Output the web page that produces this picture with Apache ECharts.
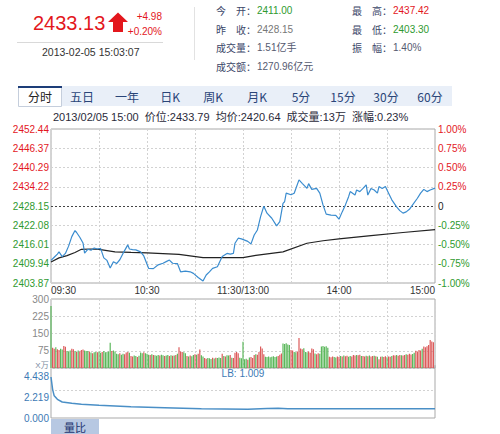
<!DOCTYPE html>
<html><head><meta charset="utf-8">
<script src="https://cdn.jsdelivr.net/npm/echarts@6/dist/echarts.min.js"></script>
<style>html,body{margin:0;padding:0;background:#fff;}#c{width:500px;height:434px;}</style>
</head><body><div id="c"></div>
<script>
// ---------------- data ----------------
const prevClose = 2428.15;
const priceTicks = [2403.87, 2409.94, 2416.01, 2422.08, 2428.15, 2434.22, 2440.29, 2446.37, 2452.44];
const tickMinutes = [0, 60, 120, 180, 240];
const tickLabels = ['09:30', '10:30', '11:30/13:00', '14:00', '15:00'];
const tabNames = ['分时', '五日', '一年', '日K', '周K', '月K', '5分', '15分', '30分', '60分'];

// price line: [minute index, price]
const pricePts = [
  [0,2411.0],[2,2412.0],[4,2413.0],[5,2413.7],[7,2412.2],[9,2413.2],[11,2415.5],[12,2417.0],[13,2418.5],
  [15,2420.4],[16,2419.8],[18,2418.3],[20,2416.5],[21,2413.3],[23,2414.5],[25,2414.2],[27,2414.9],[29,2414.6],
  [31,2414.8],[33,2411.8],[35,2411.0],[37,2408.6],[39,2410.6],[41,2410.0],[43,2411.2],[45,2413.2],[48,2415.9],
  [49,2414.6],[51,2414.4],[53,2414.3],[56,2413.7],[58,2412.4],[61,2408.5],[64,2408.4],[67,2409.6],[70,2410.1],
  [72,2410.6],[74,2411.1],[76,2410.1],[79,2410.0],[81,2407.4],[84,2407.6],[87,2407.4],[89,2406.9],[92,2405.6],
  [95,2404.5],[97,2406.4],[99,2407.4],[101,2408.5],[104,2409.0],[107,2412.2],[110,2413.2],[112,2413.0],[114,2413.2],
  [115,2416.4],[117,2418.0],[119,2417.8],[121,2417.4],[123,2417.0],[125,2416.2],[127,2419.0],[129,2420.6],[131,2424.8],
  [133,2428.1],[135,2425.9],[138,2424.3],[141,2421.9],[143,2423.2],[145,2429.0],[146,2429.5],[147,2432.2],[150,2431.7],
  [152,2432.2],[155,2436.4],[157,2435.3],[160,2433.7],[161,2435.2],[163,2433.4],[166,2433.7],[168,2432.2],[170,2428.5],
  [172,2425.6],[175,2425.3],[178,2425.2],[180,2424.0],[182,2426.3],[184,2428.5],[186,2431.1],[187,2432.7],[190,2431.6],
  [191,2433.2],[193,2432.7],[195,2433.7],[197,2434.8],[198,2431.6],[200,2433.7],[202,2433.2],[204,2432.2],[205,2434.3],
  [207,2433.7],[209,2434.3],[211,2432.2],[213,2430.1],[216,2427.9],[218,2426.7],[220,2425.9],[222,2426.3],[224,2427.1],
  [226,2428.5],[229,2430.6],[231,2432.2],[233,2433.4],[235,2432.7],[237,2433.2],[240,2433.79]
];
// average price line
const avgPts = [
  [0,2410.5],[5,2411.8],[10,2412.5],[15,2413.5],[19,2414.5],[25,2414.6],[30,2414.5],[40,2413.7],[50,2413.5],
  [60,2413.4],[80,2412.9],[95,2411.9],[120,2411.9],[128,2412.6],[145,2413.7],[160,2416.4],[170,2417.2],
  [180,2417.8],[200,2418.8],[220,2419.8],[240,2420.7]
];
// volume per minute (万)
const volumes = [
  270,88,84,90,82,78,84,80,96,92,
  74,72,76,84,82,74,70,76,72,78,
  80,76,74,74,72,67,64,68,70,68,
  72,66,70,74,68,70,72,110,74,76,
  72,62,60,64,58,62,60,67,70,66,
  52,50,54,52,48,53,67,64,68,64,
  62,58,56,60,57,55,53,56,54,58,
  55,52,54,56,52,55,53,54,57,62,
  90,72,70,68,64,52,50,54,51,56,
  60,58,62,80,55,50,43,40,44,42,
  39,45,41,45,43,46,44,62,52,50,
  55,54,56,45,44,66,70,64,45,42,
  114,38,40,36,46,48,44,56,60,58,
  70,93,85,60,49,48,50,47,49,51,
  48,50,52,58,63,107,104,108,102,100,
  78,76,70,68,72,130,85,82,86,70,
  68,72,66,85,82,63,60,64,62,93,
  96,92,95,88,49,47,50,48,46,50,
  48,52,50,54,51,53,49,52,50,56,
  54,57,55,58,52,52,50,53,51,54,
  50,52,53,51,49,38,49,50,48,51,
  47,50,49,52,55,54,56,53,57,55,
  54,56,60,58,62,59,61,66,75,72,
  78,76,84,93,90,95,100,122,115,112,
  12
];
// r = up minute, g = down minute, n = flat
const volDir = (
  'grrgrrggrr' + 'gggrrgrgrr' + 'rgggrgrggr' + 'ggrgggggrg' + 'gggrggrrrg' +
  'rrggrgggrg' + 'ggrgrgggrg' + 'grggrgrgrg' + 'rrrggrgrgg' + 'rgrrggrrgg' +
  'grgrgggrgr' + 'ggrgrrrrgg' + 'gggrgrrrgr' + 'rrrrgggggg' + 'ggrrrggggg' +
  'rrggrrrrgg' + 'grrrrgrrgg' + 'ggggrrrggr' + 'rgrgrrggrr' + 'rgrrgrrgrg' +
  'rrgrgrrgrr' + 'grrgrrgrrg' + 'rrgrrrggrr' + 'rrgrrrrrrr' + 'n'
);
// 量比 line
const lbPts = [
  [0,4.438],[1,3.1],[2,2.4],[4,2.02],[7,1.73],[13,1.59],[19,1.48],[30,1.37],[50,1.22],[71,1.12],
  [94,1.01],[123,0.94],[135,1.02],[142,1.06],[148,0.99],[160,1.0],[200,1.0],[240,1.009]
];
const lbTicks = [0, 2.219, 4.438];

// ---------------- chart ----------------
const RED = '#e3171d', GREEN = '#2f9a2f';
const F = '"Liberation Sans", Arial, "Noto Sans CJK SC", sans-serif';
const CJK = '"Noto Sans CJK SC", "Liberation Sans", sans-serif';
const gridLine = {show: true, lineStyle: {color: '#d2d2d2', type: [2, 2], width: 1}};

function T(x, y, text, size, color, align, fam, weight) {
  return {type: 'text', x: x, y: y, silent: true, z: 10,
    style: {text: text, fill: color, fontSize: size, fontFamily: fam || F, fontWeight: weight || 'normal',
      align: align || 'left', verticalAlign: 'middle'}};
}

const tabCenters = [40, 82, 127, 170, 213, 257, 301, 343, 386, 430];
const graphics = [
  T(33, 23, '2433.13', 20, RED),
  {type: 'polygon', silent: true, shape: {points: [[108,22],[118,12.5],[128,22],[123,22],[123,32],[113,32],[113,22]]}, style: {fill: RED}},
  T(162, 16.5, '+4.98', 10, RED, 'right'),
  T(162, 31, '+0.20%', 10, RED, 'right'),
  {type: 'line', silent: true, shape: {x1: 17, y1: 42.5, x2: 163, y2: 42.5}, style: {stroke: '#d9d9d9', lineWidth: 1}},
  T(42, 52, '2013-02-05 15:03:07', 10.5, '#333'),
  {type: 'line', silent: true, shape: {x1: 194.5, y1: 7, x2: 194.5, y2: 60}, style: {stroke: '#e2e2e2', lineWidth: 1}},
  // info block
  T(216, 10, '今　开：', 10, '#3b4668', 'left', CJK), T(257, 10, '2411.00', 10, GREEN),
  T(216, 29, '昨　收：', 10, '#3b4668', 'left', CJK), T(257, 29, '2428.15', 10, '#777'),
  T(216, 47, '成交量：', 10, '#3b4668', 'left', CJK), T(257, 47, '1.51亿手', 10, '#555a70'),
  T(216, 66, '成交额：', 10, '#3b4668', 'left', CJK), T(257, 66, '1270.96亿元', 10, '#555a70'),
  T(352, 10, '最　高：', 10, '#3b4668', 'left', CJK), T(393, 10, '2437.42', 10, RED),
  T(352, 29, '最　低：', 10, '#3b4668', 'left', CJK), T(393, 29, '2403.30', 10, GREEN),
  T(352, 47, '振　幅：', 10, '#3b4668', 'left', CJK), T(393, 47, '1.40%', 10, '#555a70'),
  // tab bar
  {type: 'rect', silent: true, shape: {x: 18, y: 86, width: 434, height: 20}, style: {fill: '#e9eff8'}},
  {type: 'rect', silent: true, shape: {x: 18.5, y: 86.5, width: 43, height: 20}, style: {fill: '#fff', stroke: '#c5cedc', lineWidth: 1}},
  {type: 'line', silent: true, shape: {x1: 18, y1: 87, x2: 62, y2: 87}, style: {stroke: '#1d3d78', lineWidth: 2}},
  // info line
  T(53, 117, '2013/02/05 15:00  价位:2433.79  均价:2420.64  成交量:13万  涨幅:0.23%', 11, '#2a2a3a'),
  // volume unit & LB label
  T(42, 365.5, 'X万', 8, '#7a8aa0', 'center'),
  T(243, 373, 'LB: 1.009', 10, '#3d7ab5', 'center'),
  // bottom tab
  {type: 'rect', silent: true, shape: {x: 51, y: 419, width: 48, height: 15}, style: {fill: '#b7c8e2'}},
  T(75, 427, '量比', 11, '#1d3570', 'center', CJK)
];
tabNames.forEach(function (n, i) {
  graphics.push(T(tabCenters[i], 96, n, 12, i === 0 ? '#222' : '#2a4578', 'center', CJK));
});

const barData = volumes.map(function (v, i) {
  const d = volDir[i];
  return {value: [i, v], itemStyle: {color: d === 'r' ? '#dc5b5b' : (d === 'g' ? '#5cb85c' : '#aaaaaa')}};
});

const xBase = {type: 'value', min: 0, max: 240, interval: 30, axisLine: {show: false}, axisTick: {show: false}};

const option = {
  animation: false,
  backgroundColor: '#fff',
  textStyle: {fontFamily: F},
  graphic: graphics,
  grid: [
    {left: 51, top: 129, width: 384, height: 154, show: true, borderColor: '#a9a9a9', borderWidth: 1},
    {left: 51, top: 299, width: 384, height: 69, show: true, borderColor: '#a9a9a9', borderWidth: 1},
    {left: 51, top: 368, width: 384, height: 50, show: true, borderColor: '#a9a9a9', borderWidth: 1}
  ],
  xAxis: [
    Object.assign({}, xBase, {gridIndex: 0, splitLine: gridLine,
      axisLabel: {show: true, fontSize: 10, color: '#333', margin: 2, alignMinLabel: 'left', alignMaxLabel: 'right',
        formatter: function (v) { const k = tickMinutes.indexOf(v); return k >= 0 ? tickLabels[k] : ''; }}}),
    Object.assign({}, xBase, {gridIndex: 1, splitLine: gridLine, axisLabel: {show: false}}),
    Object.assign({}, xBase, {gridIndex: 2, splitLine: {show: false}, axisLabel: {show: false}})
  ],
  yAxis: [
    {type: 'value', gridIndex: 0, position: 'left', min: priceTicks[0], max: priceTicks[priceTicks.length - 1],
      axisLine: {show: false}, axisTick: {show: false}, splitLine: {show: false},
      axisLabel: {show: true, customValues: priceTicks, fontSize: 10, margin: 2,
        formatter: function (v) { return v.toFixed(2); },
        color: function (v) { return (+v) > prevClose + 0.001 ? RED : GREEN; }}},
    {type: 'value', gridIndex: 0, position: 'right', min: -1, max: 1, interval: 0.25,
      axisLine: {show: false}, axisTick: {show: false}, splitLine: gridLine,
      axisLabel: {show: true, fontSize: 10, margin: 3,
        formatter: function (v) { return Math.abs(v) < 1e-9 ? '0' : v.toFixed(2) + '%'; },
        color: function (v) { v = +v; return v > 1e-9 ? RED : (v < -1e-9 ? GREEN : '#222'); }}},
    {type: 'value', gridIndex: 1, min: 0, max: 300, interval: 75,
      axisLine: {show: false}, axisTick: {show: false}, splitLine: gridLine,
      axisLabel: {fontSize: 10, color: '#888', margin: 2, formatter: function (v) { return v === 0 ? '' : String(v); }}},
    {type: 'value', gridIndex: 2, min: 0, max: 5.41,
      axisLine: {show: false}, axisTick: {show: false},
      splitLine: {show: true, lineStyle: {color: '#d2d2d2', type: [2, 2]}, showMinLine: false},
      axisLabel: {customValues: lbTicks, fontSize: 10, color: '#3d7ab5', margin: 2,
        formatter: function (v) { return (+v).toFixed(3); }},
      splitNumber: 2}
  ],
  series: [
    {type: 'line', xAxisIndex: 0, yAxisIndex: 0, data: pricePts, showSymbol: false, symbol: 'none',
      lineStyle: {color: '#3a8ccf', width: 1.2}, z: 5,
      markLine: {silent: true, symbol: 'none', label: {show: false},
        lineStyle: {color: '#444', type: [2, 2], width: 1}, data: [{yAxis: prevClose}]}},
    {type: 'line', xAxisIndex: 0, yAxisIndex: 0, data: avgPts, showSymbol: false, symbol: 'none',
      lineStyle: {color: '#222', width: 1.2}, z: 4},
    {type: 'bar', xAxisIndex: 1, yAxisIndex: 2, data: barData, barWidth: 1.2},
    {type: 'line', xAxisIndex: 2, yAxisIndex: 3, data: lbPts, showSymbol: false, symbol: 'none',
      lineStyle: {color: '#4a8fc6', width: 1.5}}
  ]
};

const chart = echarts.init(document.getElementById('c'), null, {renderer: 'svg'});
chart.setOption(option);
</script>
</body></html>
